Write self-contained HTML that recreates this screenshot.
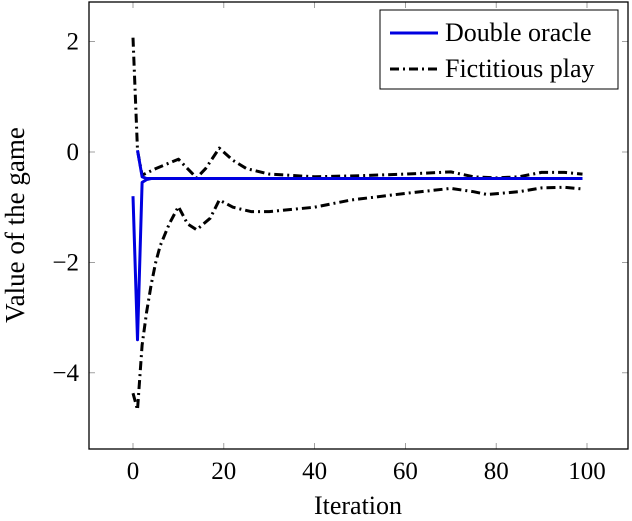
<!DOCTYPE html>
<html><head><meta charset="utf-8"><style>
html,body{margin:0;padding:0;background:#fff}
svg, svg text{font-family:"Liberation Serif","DejaVu Serif","Times New Roman",serif}
</style></head><body>
<svg id="chart" width="632" height="516" viewBox="0 0 632 516" xmlns="http://www.w3.org/2000/svg" font-family="Liberation Serif, DejaVu Serif, serif">
<g id="grid"></g>
<g id="series"></g>
<rect x="89" y="2" width="539" height="447" fill="none" stroke="#000" stroke-width="1.3"/>
<text x="358" y="514" font-size="26" text-anchor="middle">Iteration</text>
<text transform="translate(24,225) rotate(-90)" font-size="27" text-anchor="middle">Value of the game</text>
<g>
<rect x="380" y="10" width="238" height="79" fill="#fff" stroke="#000" stroke-width="1"/>
<line x1="390" y1="33" x2="438" y2="33" stroke="#0000e0" stroke-width="3"/>
<text x="445" y="41" font-size="26">Double oracle</text>
<line x1="390" y1="69" x2="438" y2="69" stroke="#000" stroke-width="3" stroke-dasharray="9,4,2,4"/>
<text x="445" y="77" font-size="26">Fictitious play</text>
</g>
</svg>
<script>
const xTicks = [0, 20, 40, 60, 80, 100];
const yTicks = [2, 0, -2, -4];
const yTickLabels = ["2", "0", "\u22122", "\u22124"];
const doUpperX = [1, 2, 3, 4, 99];
const doUpperY = [0.03, -0.45, -0.48, -0.48, -0.48];
const doLowerX = [0, 1, 2, 3, 4, 99];
const doLowerY = [-0.8, -3.4, -0.55, -0.5, -0.48, -0.48];
const fpUpperX = [0, 1, 2, 5, 10, 12, 14, 16, 19, 22, 25, 30, 40, 50, 60, 70, 75, 80, 85, 90, 95, 99];
const fpUpperY = [2.07, 0.03, -0.42, -0.3, -0.13, -0.3, -0.47, -0.3, 0.07, -0.15, -0.3, -0.4, -0.45, -0.43, -0.4, -0.36, -0.45, -0.47, -0.45, -0.37, -0.37, -0.4];
const fpLowerX = [0, 1, 2, 3, 4, 5, 6, 8, 10, 12, 14, 17, 19, 22, 26, 30, 40, 48, 50, 60, 70, 75, 78, 85, 90, 95, 99];
const fpLowerY = [-4.37, -4.67, -3.5, -2.9, -2.4, -2.0, -1.7, -1.3, -0.99, -1.3, -1.41, -1.2, -0.87, -1.0, -1.08, -1.08, -1.0, -0.87, -0.85, -0.75, -0.66, -0.72, -0.77, -0.72, -0.65, -0.64, -0.67];

const NS = "http://www.w3.org/2000/svg";
const xS = v => 133 + (587 - 133) * v / 100;
const yS = v => 152 - 55.2 * v;
const grid = document.getElementById('grid');
const ser = document.getElementById('series');
function mk(tag, attrs, parent) {
  const e = document.createElementNS(NS, tag);
  for (const k in attrs) e.setAttribute(k, attrs[k]);
  parent.appendChild(e);
  return e;
}
xTicks.forEach(t => {
  const x = xS(t);
  const a = mk('line', {x1: x, x2: x, y1: 449, y2: 443, stroke: '#888', 'stroke-width': 0.8}, grid);
  
  
  const b = mk('line', {x1: x, x2: x, y1: 2, y2: 8, stroke: '#888', 'stroke-width': 0.8}, grid);
  
  
  const l = mk('text', {x: x, y: 479, 'font-size': 25, 'text-anchor': 'middle'}, grid);
  l.textContent = String(t);
  
  
});
yTicks.forEach((t, i) => {
  const y = yS(t);
  const a = mk('line', {x1: 89, x2: 95, y1: y, y2: y, stroke: '#888', 'stroke-width': 0.8}, grid);
  
  
  const b = mk('line', {x1: 622, x2: 628, y1: y, y2: y, stroke: '#888', 'stroke-width': 0.8}, grid);
  
  
  const l = mk('text', {x: 79, y: y + 8, 'font-size': 25, 'text-anchor': 'end'}, grid);
  l.textContent = yTickLabels[i];
  
  
});
function line(xs, ys, color, dash, name) {
  const pts = xs.map((x, i) => xS(x).toFixed(1) + ',' + yS(ys[i]).toFixed(1)).join(' ');
  const attrs = {points: pts, fill: 'none', stroke: color, 'stroke-width': 3, 'stroke-linejoin': 'round'};
  if (dash) attrs['stroke-dasharray'] = dash;
  const p = mk('polyline', attrs, ser);
  
  
}
line(fpUpperX, fpUpperY, '#000', '9,4,2,4', 'fictitious-play-upper-line');
line(fpLowerX, fpLowerY, '#000', '9,4,2,4', 'fictitious-play-lower-line');
line(doUpperX, doUpperY, '#0000e0', null, 'double-oracle-upper-line');
line(doLowerX, doLowerY, '#0000e0', null, 'double-oracle-lower-line');
</script>
</body></html>
